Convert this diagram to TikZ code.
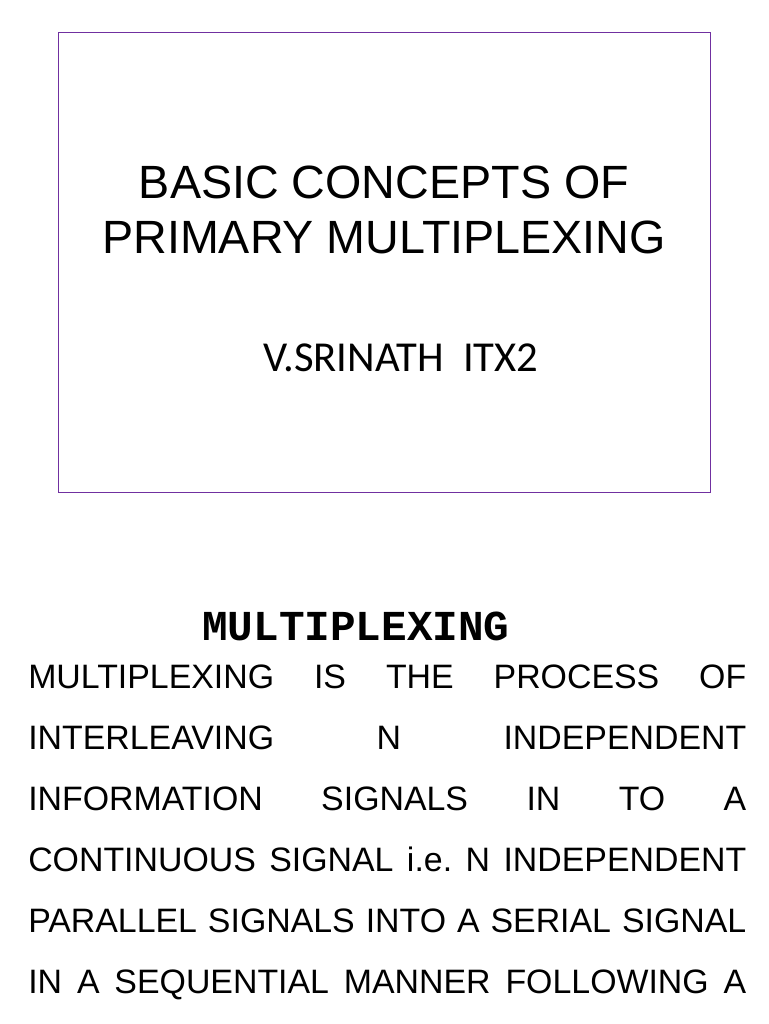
\documentclass[tikz,border=0pt]{standalone}
\usepackage{fontspec}
\setmainfont{Liberation Sans}
\newfontfamily\calibrifont{Carlito}
\newfontfamily\courfont{Liberation Mono}
\usetikzlibrary{positioning}
\definecolor{boxviolet}{RGB}{112,48,160}
\newcommand{\jline}[1]{\makebox[538.5pt][s]{#1}}
\begin{document}
\begin{tikzpicture}
		[   x=0.75pt,y=0.75pt,
		    title/.style={font=\fontsize{35}{41}\selectfont,anchor=base,inner sep=0pt},
		    bodyline/.style={font=\fontsize{25.4}{30}\selectfont,anchor=base west,inner sep=0pt},
		]
		\useasboundingbox (0,0) rectangle (768,-1024);
		\fill[white] (0,0) rectangle (768,-1024);
		
		% title slide
		\draw[boxviolet,line width=0.6pt] (58,-32) rectangle (710,-492);
		\node[title] (t-1) at (384,-198) {BASIC CONCEPTS OF};
		\node[title] (t-2) at (384,-253) {PRIMARY MULTIPLEXING};
		\node[title,font=\calibrifont\fontsize{32}{36}\selectfont] (auth) at (401,-371) {V.SRINATH\ \ ITX2};
		
		% heading
		\node[anchor=base,inner sep=0pt,font=\courfont\bfseries\fontsize{32}{36}\selectfont] (head) at (356,-640) {MULTIPLEXING};
		
		% body text
		\node[bodyline] (b-1) at (28,-688) {\jline{MULTIPLEXING\hfill IS\hfill THE\hfill PROCESS\hfill OF}};
		\node[bodyline] (b-2) at (28,-749) {\jline{INTERLEAVING\hfill N\hfill INDEPENDENT}};
		\node[bodyline] (b-3) at (28,-810) {\jline{INFORMATION\hfill SIGNALS\hfill IN\hfill TO\hfill A}};
		\node[bodyline] (b-4) at (28,-871) {\jline{CONTINUOUS SIGNAL i.e.\ N INDEPENDENT}};
		\node[bodyline] (b-5) at (28,-932) {\jline{PARALLEL SIGNALS INTO A SERIAL SIGNAL}};
		\node[bodyline] (b-6) at (28,-993) {\jline{IN\hfill A\hfill SEQUENTIAL\hfill MANNER\hfill FOLLOWING\hfill A}};
		
\end{tikzpicture}
\end{document}
